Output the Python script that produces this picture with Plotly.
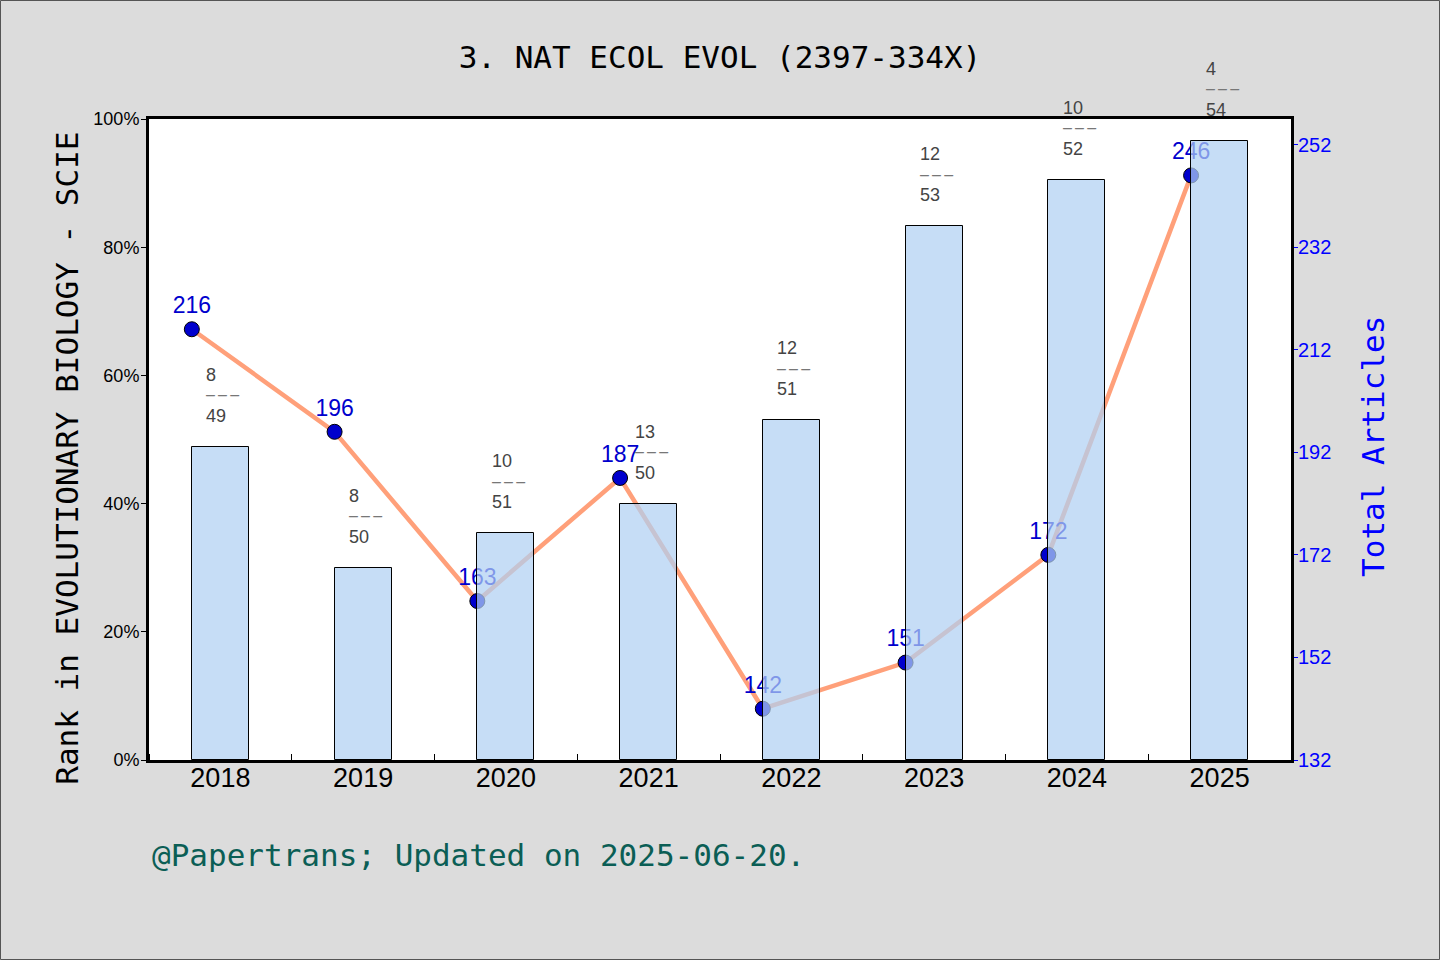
import plotly.graph_objects as go

# values
years = ["2018", "2019", "2020", "2021", "2022", "2023", "2024", "2025"]
rank_pct = [48.9, 30.0, 35.4, 40.0, 53.0, 83.3, 90.5, 96.6]   # bar heights (%)
rank_pos = [8, 8, 10, 13, 12, 12, 10, 4]                       # rank in category
cat_size = [49, 50, 51, 50, 51, 53, 52, 54]                    # journals in category
articles = [216, 196, 163, 187, 142, 151, 172, 246]            # total articles
right_ticks = [132, 152, 172, 192, 212, 232, 252]
left_ticks = [0, 20, 40, 60, 80, 100]

xpos = list(range(len(years)))
bar_w = 0.4
line_x = [x - bar_w / 2 for x in xpos]   # markers sit on the bar's left edge

mono = "DejaVu Sans Mono"
sans = "Liberation Sans"
dashes = "\u2013\u2009\u2013\u2009\u2013"

fig = go.Figure()

# line first (on y), bars on the overlaying axis so they sit on top
fig.add_trace(go.Scatter(
    x=line_x, y=articles, yaxis="y",
    mode="lines+markers+text",
    text=[str(v) for v in articles],
    textposition="top center",
    textfont=dict(family=sans, size=23, color="mediumblue"),
    line=dict(color="#FFA07A", width=4.5),
    marker=dict(size=15, color="mediumblue", line=dict(color="black", width=1)),
    showlegend=False, cliponaxis=False,
))

fig.add_trace(go.Bar(
    x=xpos, y=rank_pct, yaxis="y2", width=bar_w,
    marker=dict(color="rgba(176,208,242,0.72)", line=dict(color="black", width=1)),
    showlegend=False,
))

# fraction labels above each bar: rank / --- / size
for i in range(len(years)):
    for txt, shift, size, col in [(str(rank_pos[i]), 72, 18, "#444444"),
                                  (dashes, 52, 16, "#777777"),
                                  (str(cat_size[i]), 31, 18, "#444444")]:
        fig.add_annotation(
            x=xpos[i], y=rank_pct[i], xref="x", yref="y2",
            text=txt, showarrow=False,
            xanchor="left", yanchor="middle", xshift=-16, yshift=shift,
            font=dict(family=sans, size=size, color=col),
        )

# axis titles and footer
fig.add_annotation(
    x=-0.0718, y=0.47, xref="paper", yref="paper",
    text="Rank in EVOLUTIONARY BIOLOGY - SCIE", textangle=-90, showarrow=False,
    xanchor="center", yanchor="middle",
    font=dict(family=mono, size=31, color="black"),
)
fig.add_annotation(
    x=1.0718, y=0.49, xref="paper", yref="paper",
    text="Total Articles", textangle=-90, showarrow=False,
    xanchor="center", yanchor="middle",
    font=dict(family=mono, size=31, color="blue"),
)
fig.add_annotation(
    x=0.0009, y=-0.148, xref="paper", yref="paper",
    text="@Papertrans; Updated on 2025-06-20.", showarrow=False,
    xanchor="left", yanchor="middle",
    font=dict(family=mono, size=31, color="#0b5e55"),
)

# thin frame around whole figure
fig.add_shape(type="rect", xref="paper", yref="paper",
              x0=-148.5 / 1142, x1=1 + 148.5 / 1142, y0=-199.5 / 641, y1=1 + 118.5 / 641,
              line=dict(color="#555555", width=1), layer="below")

fig.update_layout(
    width=1440, height=960,
    paper_bgcolor="#dcdcdc", plot_bgcolor="white",
    margin=dict(l=149, r=149, t=119, b=200),
    title=dict(text="3. NAT ECOL EVOL (2397-334X)", x=0.5, xanchor="center",
               y=1 - 57 / 960, yanchor="middle",
               font=dict(family=mono, size=31, color="black")),
    xaxis=dict(
        range=[-0.5, 7.5], tickvals=xpos, ticktext=years, ticks="",
        tickfont=dict(family=sans, size=27, color="black"),
        ticklabelstandoff=-8,
        showline=True, linecolor="black", linewidth=3, mirror=True,
        showgrid=False, zeroline=False,
        minor=dict(tick0=0.5, dtick=1, ticks="inside", ticklen=6, tickcolor="black"),
    ),
    yaxis=dict(
        range=[132, 257], side="right", tickvals=right_ticks,
        ticks="outside", ticklen=4, tickcolor="blue",
        tickfont=dict(family=sans, size=20, color="blue"),
        ticklabelstandoff=-4,
        showline=True, linecolor="black", linewidth=3,
        showgrid=False, zeroline=False,
    ),
    yaxis2=dict(
        range=[0, 100], overlaying="y", side="left",
        tickvals=left_ticks, ticktext=[f"{v}%" for v in left_ticks],
        ticks="outside", ticklen=5, tickcolor="black",
        tickfont=dict(family=sans, size=18, color="black"),
        ticklabelstandoff=-2,
        showline=True, linecolor="black", linewidth=3,
        showgrid=False, zeroline=False,
    ),
    bargap=0,
)

fig.write_html("out.html", config={"displayModeBar": False},
               post_script="document.body.style.margin='0';")
